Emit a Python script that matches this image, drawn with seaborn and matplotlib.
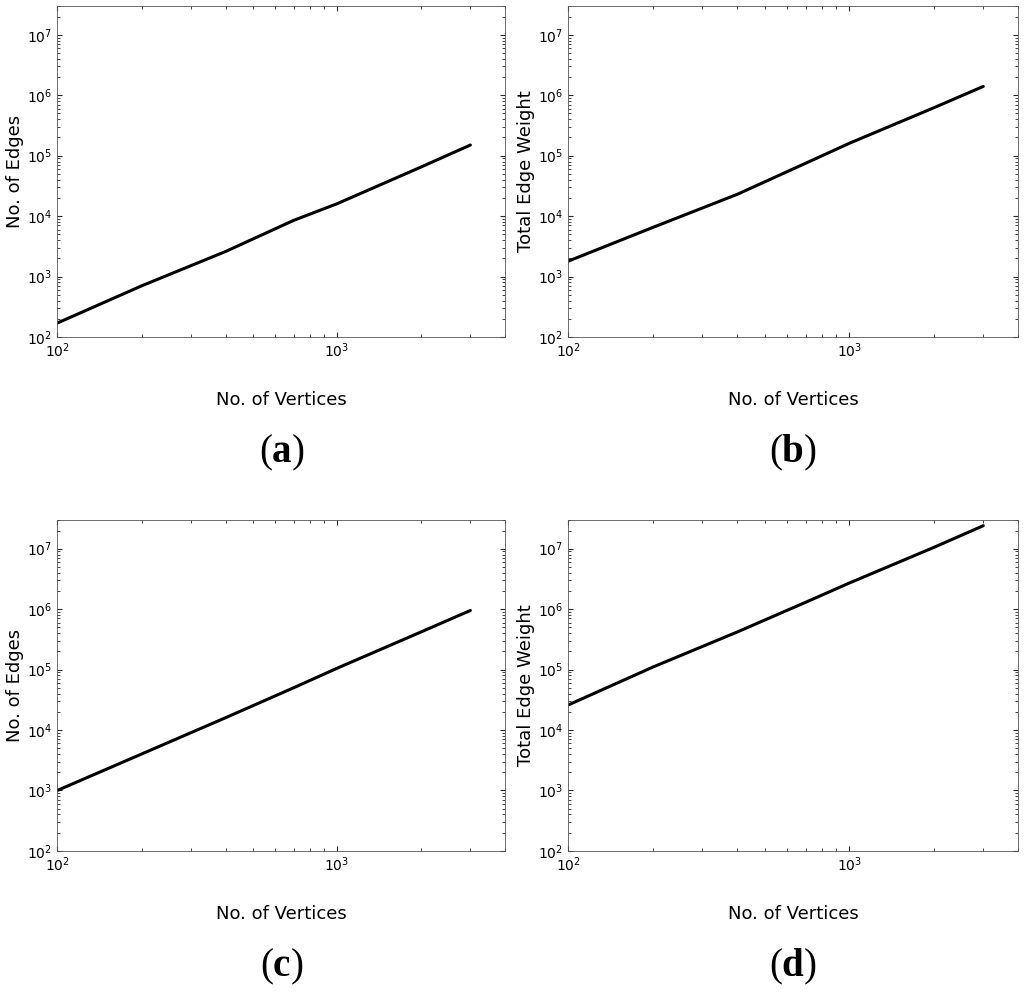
import matplotlib
matplotlib.use("Agg")
import matplotlib.pyplot as plt
import seaborn as sns
import pandas as pd

sns.set_style("ticks")
plt.rcParams["font.family"] = ["DejaVu Sans"]
plt.rcParams["mathtext.fontset"] = "custom"
plt.rcParams["mathtext.rm"] = "Liberation Serif"
plt.rcParams["mathtext.bf"] = "Liberation Serif:bold"

# -----------------------------
# Data
# -----------------------------
vertices = [100, 200, 400, 700, 1000, 2000, 3000]
edges_a = [170, 700, 2600, 8500, 1.6e4, 6.5e4, 1.5e5]
weight_b = [1800, 6500, 2.3e4, 7.5e4, 1.6e5, 6.2e5, 1.4e6]
edges_c = [1000, 4000, 1.6e4, 5e4, 1.05e5, 4.2e5, 9.5e5]
weight_d = [2.6e4, 1.1e5, 4.2e5, 1.3e6, 2.7e6, 1.05e7, 2.4e7]

panels = [
    ("a", "No. of Edges", edges_a),
    ("b", "Total Edge Weight", weight_b),
    ("c", "No. of Edges", edges_c),
    ("d", "Total Edge Weight", weight_d),
]

fig = plt.figure(figsize=(10.24, 9.94), dpi=100)
rects = [
    (0.056, 0.661, 0.4375, 0.333),
    (0.555, 0.661, 0.4395, 0.333),
    (0.056, 0.144, 0.4375, 0.333),
    (0.555, 0.144, 0.4395, 0.333),
]
label_y = [0.535, 0.535, 0.018, 0.018]

for (letter, ylabel, values), rect, ly in zip(panels, rects, label_y):
    ax = fig.add_axes(rect)
    df = pd.DataFrame({"v": vertices, "y": values})
    sns.lineplot(data=df, x="v", y="y", ax=ax, color="black", linewidth=2.2)
    ax.set_xscale("log")
    ax.set_yscale("log")
    ax.set_xlim(100, 4000)
    ax.set_ylim(100, 3e7)
    ax.set_xlabel("No. of Vertices", fontsize=13, labelpad=22, color="black")
    ax.set_ylabel(ylabel, fontsize=13, labelpad=2, color="black")
    ax.tick_params(labelsize=10, direction="in", which="both", top=True, right=True,
                   labelcolor="black")
    for s in ax.spines.values():
        s.set_linewidth(0.6)
        s.set_color("#555555")
    fig.text(rect[0] + rect[2] / 2, ly, rf"$(\mathbf{{{letter}}})$", ha="center",
             fontsize=28, color="black")

fig.savefig("out.png", dpi=100)
